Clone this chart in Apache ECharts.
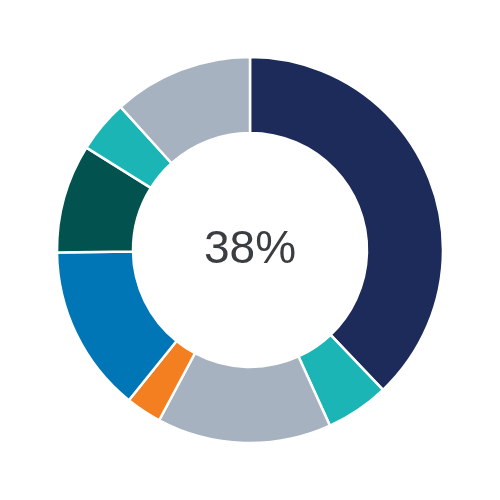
<!DOCTYPE html>
<html>
<head>
<meta charset="utf-8">
<script src="https://cdn.jsdelivr.net/npm/echarts@6/dist/echarts.min.js"></script>
<style>html,body{margin:0;padding:0;background:#fff;}#c{width:500px;height:500px;}</style>
</head>
<body>
<div id="c"></div>
<script>
const categories = ['A', 'B', 'C', 'D', 'E', 'F', 'G', 'H'];
const values = [37.9, 5.3, 14.6, 3.0, 14.0, 9.1, 4.4, 11.7];
const colors = ['#1c2b5a', '#1bb5b6', '#a7b2c1', '#f37f20', '#0076b6', '#02534f', '#1bb5b6', '#a7b2c1'];
const centerLabel = '38%';

const chart = echarts.init(document.getElementById('c'), null, {renderer: 'canvas'});
chart.setOption({
  animation: false,
  title: {
    text: centerLabel,
    left: 'center',
    top: 'middle',
    textStyle: {
      fontFamily: 'Liberation Sans, Arial, sans-serif',
      fontWeight: 'normal',
      fontSize: 46,
      color: '#3a3d42'
    }
  },
  series: [{
    type: 'pie',
    center: ['50%', '50%'],
    radius: [117, 193],
    startAngle: 90,
    clockwise: true,
    avoidLabelOverlap: false,
    label: {show: false},
    labelLine: {show: false},
    itemStyle: {borderColor: '#ffffff', borderWidth: 2.5},
    data: categories.map((c, i) => ({name: c, value: values[i], itemStyle: {color: colors[i]}}))
  }]
});
</script>
</body>
</html>
